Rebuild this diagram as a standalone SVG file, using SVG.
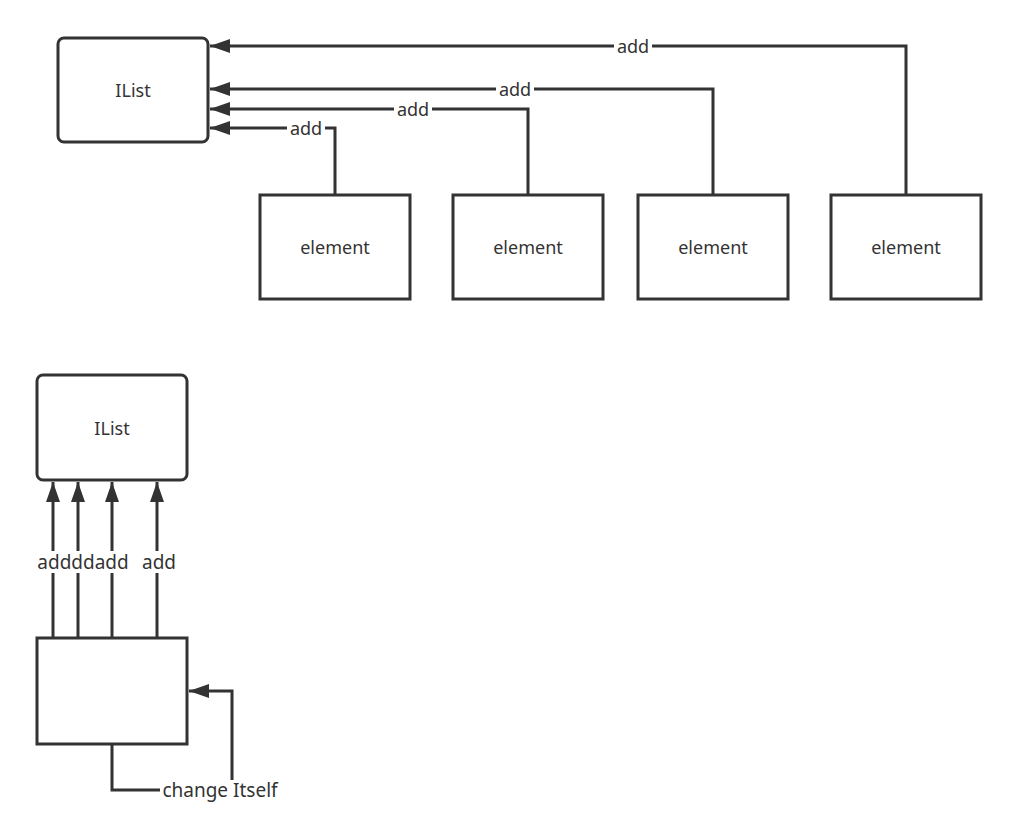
<svg xmlns="http://www.w3.org/2000/svg" width="1019" height="827" viewBox="0 0 1019 827">
<style>
.n{fill:#fff;stroke:#333;stroke-width:3}
.c{fill:none;stroke:#333;stroke-width:3}
text{font-family:"Noto Sans","Liberation Sans",sans-serif;font-size:18px;fill:#333;text-anchor:middle;dominant-baseline:central}
.lb{fill:#fff}
</style>
<defs>
<marker id="ar" viewBox="0 0 20 14" refX="20" refY="7" markerWidth="20" markerHeight="14" orient="auto" markerUnits="userSpaceOnUse">
<path d="M0,0L20,7L0,14z" fill="#333"/>
</marker>
</defs>
<rect width="1019" height="827" fill="#fff"/>
<g id="connectors">
<path class="c" d="M906,195V46H210" marker-end="url(#ar)"/>
<path class="c" d="M713,195V89H210" marker-end="url(#ar)"/>
<path class="c" d="M528,195V109H210" marker-end="url(#ar)"/>
<path class="c" d="M335,195V128H210" marker-end="url(#ar)"/>
<path class="c" d="M53,638V482" marker-end="url(#ar)"/>
<path class="c" d="M78,638V482" marker-end="url(#ar)"/>
<path class="c" d="M112,638V482" marker-end="url(#ar)"/>
<path class="c" d="M157,638V482" marker-end="url(#ar)"/>
<path class="c" d="M112,744V790H160M232,790V691H189" marker-end="url(#ar)"/>
<rect class="lb" x="614" y="36" width="38" height="20"/><text x="633" y="46">add</text>
<rect class="lb" x="496" y="79" width="38" height="20"/><text x="515" y="89">add</text>
<rect class="lb" x="394" y="99" width="38" height="20"/><text x="413" y="109">add</text>
<rect class="lb" x="287" y="118" width="38" height="20"/><text x="306" y="128">add</text>
<rect class="lb" x="34" y="551" width="146" height="22"/>
<text x="83" y="562" style="font-size:19px">addddadd</text><text x="159" y="562" style="font-size:19px">add</text>
<rect class="lb" x="160" y="780" width="120" height="22"/><text x="220" y="790" style="font-size:19px">change Itself</text>
</g>
<g id="ilist1"><rect class="n" x="58" y="38" width="150" height="104" rx="6"/><text x="133" y="90">IList</text></g>
<g id="el1"><rect class="n" x="260" y="195" width="150" height="104"/><text x="335" y="247">element</text></g>
<g id="el2"><rect class="n" x="453" y="195" width="150" height="104"/><text x="528" y="247">element</text></g>
<g id="el3"><rect class="n" x="638" y="195" width="150" height="104"/><text x="713" y="247">element</text></g>
<g id="el4"><rect class="n" x="831" y="195" width="150" height="104"/><text x="906" y="247">element</text></g>
<g id="ilist2"><rect class="n" x="37" y="375" width="150" height="105" rx="6"/><text x="112" y="428">IList</text></g>
<g id="box"><rect class="n" x="37" y="638" width="150" height="106"/></g>
</svg>
